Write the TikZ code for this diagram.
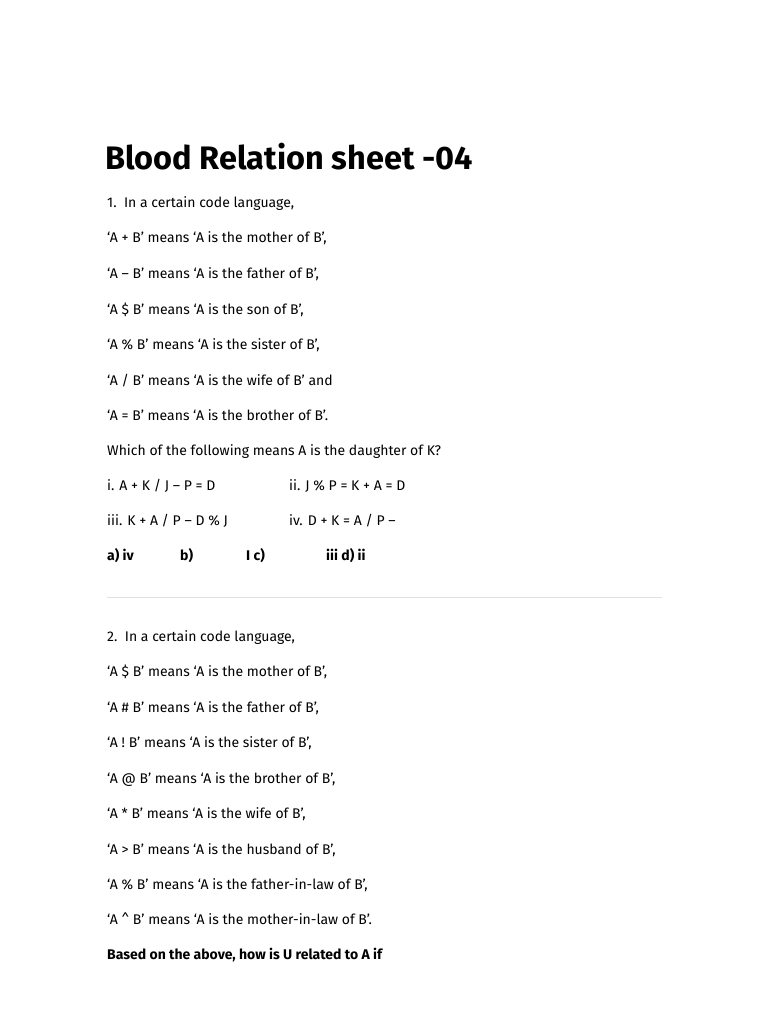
\documentclass[tikz,border=0pt]{standalone}
\usepackage{fontspec}
\setmainfont{Fira Sans}
\begin{document}
\begin{tikzpicture}[x=1pt,y=-1pt,
  tx/.style={anchor=base west,inner sep=0pt,font=\fontsize{14}{16}\selectfont},
  bx/.style={tx,font=\fontsize{14}{16}\selectfont\bfseries}]
\useasboundingbox[fill=white] (0,0) rectangle (768,1024);
\node[anchor=base west,inner sep=0pt,font=\fontsize{32.5}{38}\selectfont\bfseries] (title) at (105,170) {Blood Relation sheet -04};
\node[tx] (a1) at (107,208) {1.\ \ In a certain code language,};
\node[tx] (a2) at (107,243) {‘A + B’ means ‘A is the mother of B’,};
\node[tx] (a3) at (107,278) {‘A – B’ means ‘A is the father of B’,};
\node[tx] (a4) at (107,314) {‘A \$ B’ means ‘A is the son of B’,};
\node[tx] (a5) at (107,349) {‘A \% B’ means ‘A is the sister of B’,};
\node[tx] (a6) at (107,385) {‘A / B’ means ‘A is the wife of B’ and};
\node[tx] (a7) at (107,420) {‘A = B’ means ‘A is the brother of B’.};
\node[tx] (a8) at (107,455) {Which of the following means A is the daughter of K?};
\node[tx] (o1) at (107,490) {i. A + K / J – P = D};
\node[tx] (o2) at (289,490) {ii. J \% P = K + A = D};
\node[tx] (o3) at (107,525) {iii. K + A / P – D \% J};
\node[tx] (o4) at (289,525) {iv. D + K = A / P –};
\node[bx] (r1) at (107,560) {a) iv};
\node[bx] (r2) at (180,560) {b)};
\node[bx] (r3) at (246,560) {I c)};
\node[bx] (r4) at (326,560) {iii d) ii};
\draw[black!12,line width=0.8pt] (107,597) -- (662,597);
\node[tx] (b1) at (107,641) {2.\ \ In a certain code language,};
\node[tx] (b2) at (107,676) {‘A \$ B’ means ‘A is the mother of B’,};
\node[tx] (b3) at (107,712) {‘A \# B’ means ‘A is the father of B’,};
\node[tx] (b4) at (107,747) {‘A ! B’ means ‘A is the sister of B’,};
\node[tx] (b5) at (107,783) {‘A @ B’ means ‘A is the brother of B’,};
\node[tx] (b6) at (107,818) {‘A * B’ means ‘A is the wife of B’,};
\node[tx] (b7) at (107,854) {‘A > B’ means ‘A is the husband of B’,};
\node[tx] (b8) at (107,889) {‘A \% B’ means ‘A is the father-in-law of B’,};
\node[tx] (b9) at (107,924) {‘A \^{} B’ means ‘A is the mother-in-law of B’.};
\node[bx] (b10) at (107,959) {Based on the above, how is U related to A if};
\end{tikzpicture}
\end{document}
